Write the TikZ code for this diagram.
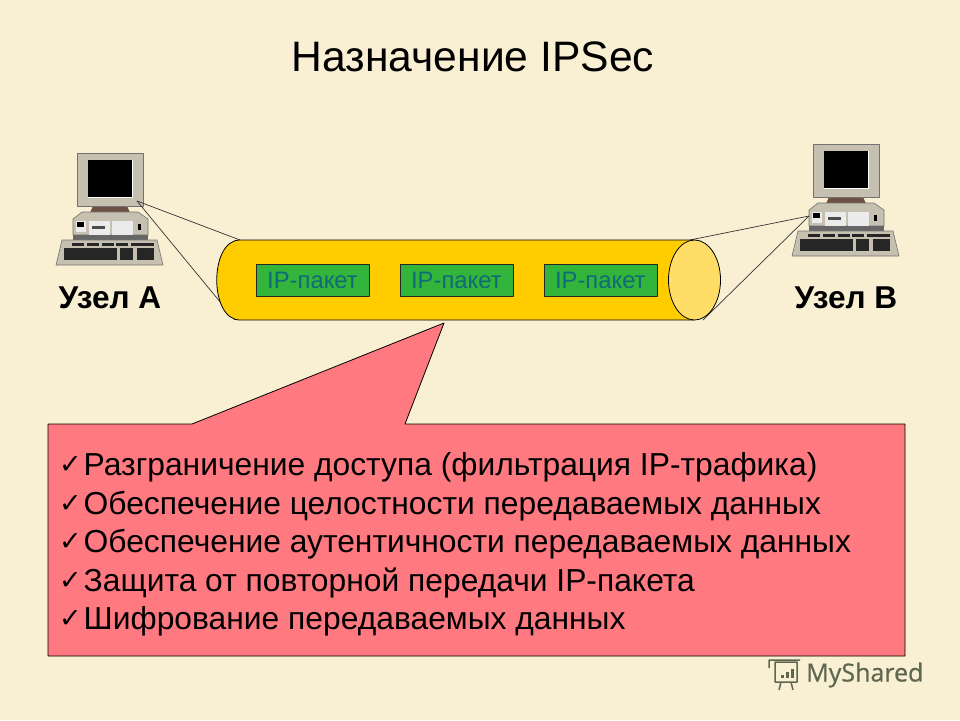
\documentclass[tikz,border=0pt]{standalone}
\usepackage{fontspec}
\setmainfont{Liberation Sans}
\newfontfamily\chkfont{DejaVu Sans}
\newfontfamily\logofont{Open Sans}
\usetikzlibrary{positioning}
\definecolor{bgcol}{HTML}{F9F0D3}
\definecolor{tubecol}{HTML}{FFCC00}
\definecolor{capcol}{HTML}{FFDD66}
\definecolor{pktcol}{HTML}{33B53C}
\definecolor{pkttext}{HTML}{106A78}
\definecolor{redcol}{HTML}{FF7A80}
\definecolor{pcgrey}{HTML}{C6C0B0}
\definecolor{pcdark}{HTML}{6E5044}
\definecolor{logocol}{HTML}{5F6650}
\tikzset{
 pkt/.style={draw=black!85, fill=pktcol, minimum width=113pt, minimum height=32pt, inner sep=0pt, text=pkttext, font=\fontsize{23.8}{24}\selectfont},
 hostlabel/.style={inner sep=0pt, font=\fontsize{31.6}{32}\selectfont\bfseries},
 item/.style={anchor=base west, inner sep=0pt, font=\fontsize{31.8}{32}\selectfont},
 chk/.style={anchor=base west, inner sep=0pt, font=\fontsize{27}{27}\chkfont},
 thinline/.style={draw=black!80, line width=0.7pt},
 pcpart/.style={draw=black!55, fill=pcgrey, line width=0.6pt}
}
% computer drawn from the top left corner of the monitor
\newcommand{\pc}[3]{
 \begin{scope}[shift={(#1,#2)}]
 \fill[pcdark] (16,53)--(50,53)--(54,62)--(12,62)--cycle;
 \draw[pcpart] (0,0) rectangle (66,53);
 \fill[black] (11,7) rectangle (55,44);
 \draw[white, line width=1pt] (55.5,7)--(55.5,44.5)--(11,44.5);
 \draw[pcpart] (5,59)--(61,59)--(71,66)--(71,82)--(-4,82)--(-4,66)--cycle;
 \fill[white!92!black] (-1,68) rectangle (9,79);
 \fill[white!92!black] (12,68) rectangle (33,82);
 \fill[white!92!black] (35,68) rectangle (56,82);
 \fill[black] (0,69) rectangle (7,74);
 \fill[black!70] (15,73) rectangle (28,76);
 \fill[black] (61,71) rectangle (64,77);
 \fill[black!60] (-4,82) rectangle (71,87);
 \draw[pcpart] (-15,87)--(80,87)--(86,112)--(-21,112)--cycle;
 \foreach \k in {-5,10,25,39,54,65}
 \fill[black!85] (\k,90) rectangle ++(12,3);
 \fill[black!85] (-13,95) rectangle (40,107);
 \fill[black!85] (43,95) rectangle (56,107);
 \fill[black!85] (60,95) rectangle (77,107);
 \coordinate (#3-scr) at (60,48);
 \coordinate (#3-box) at (-4,72);
 \end{scope}
}
\begin{document}
\begin{tikzpicture}[x=1pt, y=-1pt, line join=round]
 \useasboundingbox (0,0) rectangle (960,720);
 \fill[bgcol] (0,0) rectangle (960,720);
 \node (title) at (473,57) {\fontsize{42.6}{43}\selectfont Назначение IPSec};
 % hosts
 \pc{77}{153}{hostA}
 \pc{813}{144}{hostB}
 \node[hostlabel] (labA) at (110,298) {Узел А};
 \node[hostlabel] (labB) at (846,298) {Узел В};
 % tube ends
 \coordinate (tubeNW) at (240,240);
 \coordinate (tubeSW) at (235,320);
 \coordinate (tubeNE) at (690,240);
 \coordinate (tubeSE) at (703,320);
 \draw[thinline] (hostA-scr)--(tubeNW);
 \draw[thinline] (hostA-scr)--(tubeSW);
 \draw[thinline] (hostB-box)--(tubeNE);
 \draw[thinline] (hostB-box)--(tubeSE);
 \draw[fill=tubecol, line width=0.8pt] (240,240)--(694,240)--(694,320)--(240,320) .. controls (209,320) and (209,240) .. (240,240)--cycle;
 \draw[fill=capcol, line width=0.8pt] (694.5,280) ellipse [x radius=26, y radius=40];
 \node[pkt] (p1) at (312.5,280) {IP-пакет};
 \node[pkt, right=30.5pt of p1] (p2) {IP-пакет};
 \node[pkt, right=30.5pt of p2] (p3) {IP-пакет};
 % callout
 \draw[fill=redcol, line width=0.8pt] (48,424)--(192,424)--(444,323)--(405,424)--(905,424)--(905,656)--(48,656)--cycle;
 \foreach \n/\y/\t in {1/475/Разграничение доступа (фильтрация IP-трафика),
 2/514/Обеспечение целостности передаваемых данных,
 3/552/Обеспечение аутентичности передаваемых данных,
 4/591/Защита от повторной передачи IP-пакета,
 5/629/Шифрование передаваемых данных}{
 \node[chk] (c\n) at (59,\y-2) {✓};
 \node[item] (t\n) at (83.5,\y) {\t};
 }
 % logo
 \node[inner sep=0pt, anchor=west, text=logocol] (logo) at (806,675) {\fontsize{25}{25}\logofont\addfontfeature{FakeBold=0.6} MyShared};
 \draw[logocol, line width=1.5pt] (769,668)--(769,660)--(800,660) (775,662) rectangle (797,682) (781,682)--(779,690) (791,682)--(793,690);
 \foreach \b/\h in {781/3,786/6,791/9}
 \fill[logocol] (\b,678) rectangle ++(3,-\h);
\end{tikzpicture}
\end{document}
